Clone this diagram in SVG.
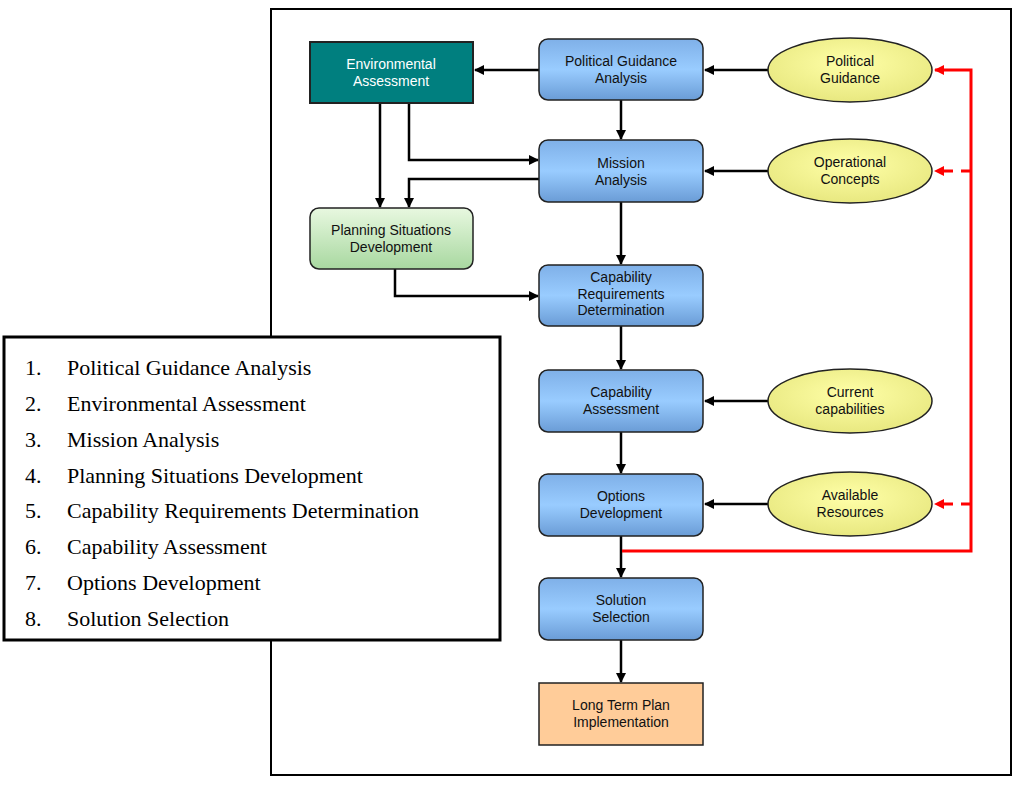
<svg xmlns="http://www.w3.org/2000/svg" width="1024" height="790" viewBox="0 0 1024 790">
<defs>
<linearGradient id="gb" x1="0" y1="0" x2="0" y2="1"><stop offset="0" stop-color="#7FB0E8"/><stop offset="0.5" stop-color="#99CCFF"/><stop offset="1" stop-color="#6A9CD6"/></linearGradient>
<linearGradient id="gg" x1="0" y1="0" x2="0" y2="1"><stop offset="0" stop-color="#E8F8E0"/><stop offset="1" stop-color="#A8D8A0"/></linearGradient>
<radialGradient id="gy" cx="0.5" cy="0.4" r="0.6"><stop offset="0" stop-color="#FFFFA8"/><stop offset="1" stop-color="#E8E880"/></radialGradient>
<marker id="ab" markerWidth="10" markerHeight="10" refX="9" refY="5" orient="auto" markerUnits="userSpaceOnUse"><path d="M0,0 L10,5 L0,10 Z" fill="#000"/></marker>
<marker id="ar" markerWidth="10" markerHeight="10" refX="9" refY="5" orient="auto" markerUnits="userSpaceOnUse"><path d="M0,0 L10,5 L0,10 Z" fill="#F00"/></marker>
</defs>
<style>
.b{fill:url(#gb);stroke:#222;stroke-width:1.5}
.e{fill:url(#gy);stroke:#222;stroke-width:1.5}
.t{font-family:"Liberation Sans",Arial,sans-serif;font-size:14px;fill:#111;text-anchor:middle}
.c{fill:none;stroke:#000;stroke-width:2.5;marker-end:url(#ab)}
.r{fill:none;stroke:#F00;stroke-width:3}
.l{font-family:"Liberation Serif","Times New Roman",serif;font-size:22px;fill:#000}
</style>
<rect x="271" y="9" width="740" height="766" fill="#fff" stroke="#000" stroke-width="2"/>
<g id="connectors">
<path class="c" d="M539,70 H475"/>
<path class="c" d="M621,100 V139"/>
<path class="c" d="M409,103 V160 H538"/>
<path class="c" d="M380,103 V207"/>
<path class="c" d="M539,179 H409 V207"/>
<path class="c" d="M621,202 V264"/>
<path class="c" d="M395,269 V296 H538"/>
<path class="c" d="M621,326 V369"/>
<path class="c" d="M621,432 V473"/>
<path class="c" d="M621,536 V577"/>
<path class="c" d="M621,640 V682"/>
<path class="c" d="M768,70 H705"/>
<path class="c" d="M768,171 H705"/>
<path class="c" d="M768,401 H705"/>
<path class="c" d="M768,504 H705"/>
<path class="r" d="M622,551 H971 V70 H935" marker-end="url(#ar)"/>
<path class="r" d="M971,171 H935" stroke-dasharray="10,8" marker-end="url(#ar)"/>
<path class="r" d="M971,504 H935" stroke-dasharray="10,8" marker-end="url(#ar)"/>
</g>
<g id="env"><rect x="310" y="42" width="163" height="61" fill="#007F7F" stroke="#222" stroke-width="2"/><text class="t" style="fill:#fff" x="391" y="69">Environmental</text><text class="t" style="fill:#fff" x="391" y="86">Assessment</text></g>
<g id="pga"><rect class="b" x="539" y="39" width="164" height="61" rx="9"/><text class="t" x="621" y="66">Political Guidance</text><text class="t" x="621" y="83">Analysis</text></g>
<g id="mission"><rect class="b" x="539" y="140" width="164" height="62" rx="9"/><text class="t" x="621" y="168">Mission</text><text class="t" x="621" y="185">Analysis</text></g>
<g id="psd"><rect x="310" y="208" width="163" height="61" rx="9" fill="url(#gg)" stroke="#222" stroke-width="1.5"/><text class="t" x="391" y="235">Planning Situations</text><text class="t" x="391" y="252">Development</text></g>
<g id="crd"><rect class="b" x="539" y="265" width="164" height="61" rx="9"/><text class="t" x="621" y="282">Capability</text><text class="t" x="621" y="299">Requirements</text><text class="t" x="621" y="315">Determination</text></g>
<g id="ca"><rect class="b" x="539" y="370" width="164" height="62" rx="9"/><text class="t" x="621" y="397">Capability</text><text class="t" x="621" y="414">Assessment</text></g>
<g id="od"><rect class="b" x="539" y="474" width="164" height="62" rx="9"/><text class="t" x="621" y="501">Options</text><text class="t" x="621" y="518">Development</text></g>
<g id="ss"><rect class="b" x="539" y="578" width="164" height="62" rx="9"/><text class="t" x="621" y="605">Solution</text><text class="t" x="621" y="622">Selection</text></g>
<g id="ltp"><rect x="539" y="683" width="164" height="62" fill="#FFCC99" stroke="#222" stroke-width="1.5"/><text class="t" x="621" y="710">Long Term Plan</text><text class="t" x="621" y="727">Implementation</text></g>
<g id="pg"><ellipse class="e" cx="850" cy="70" rx="82" ry="32"/><text class="t" x="850" y="66">Political</text><text class="t" x="850" y="83">Guidance</text></g>
<g id="oc"><ellipse class="e" cx="850" cy="171" rx="82" ry="32"/><text class="t" x="850" y="167">Operational</text><text class="t" x="850" y="184">Concepts</text></g>
<g id="cc"><ellipse class="e" cx="850" cy="401" rx="82" ry="32"/><text class="t" x="850" y="397">Current</text><text class="t" x="850" y="414">capabilities</text></g>
<g id="ar2"><ellipse class="e" cx="850" cy="504" rx="82" ry="32"/><text class="t" x="850" y="500">Available</text><text class="t" x="850" y="517">Resources</text></g>
<g id="legend"><rect x="4" y="337" width="496" height="303" fill="#fff" stroke="#000" stroke-width="3"/>
<text class="l" x="25" y="375">1.</text><text class="l" x="67" y="375">Political Guidance Analysis</text>
<text class="l" x="25" y="411">2.</text><text class="l" x="67" y="411">Environmental Assessment</text>
<text class="l" x="25" y="447">3.</text><text class="l" x="67" y="447">Mission Analysis</text>
<text class="l" x="25" y="483">4.</text><text class="l" x="67" y="483">Planning Situations Development</text>
<text class="l" x="25" y="518">5.</text><text class="l" x="67" y="518">Capability Requirements Determination</text>
<text class="l" x="25" y="554">6.</text><text class="l" x="67" y="554">Capability Assessment</text>
<text class="l" x="25" y="590">7.</text><text class="l" x="67" y="590">Options Development</text>
<text class="l" x="25" y="626">8.</text><text class="l" x="67" y="626">Solution Selection</text>
</g>
</svg>
